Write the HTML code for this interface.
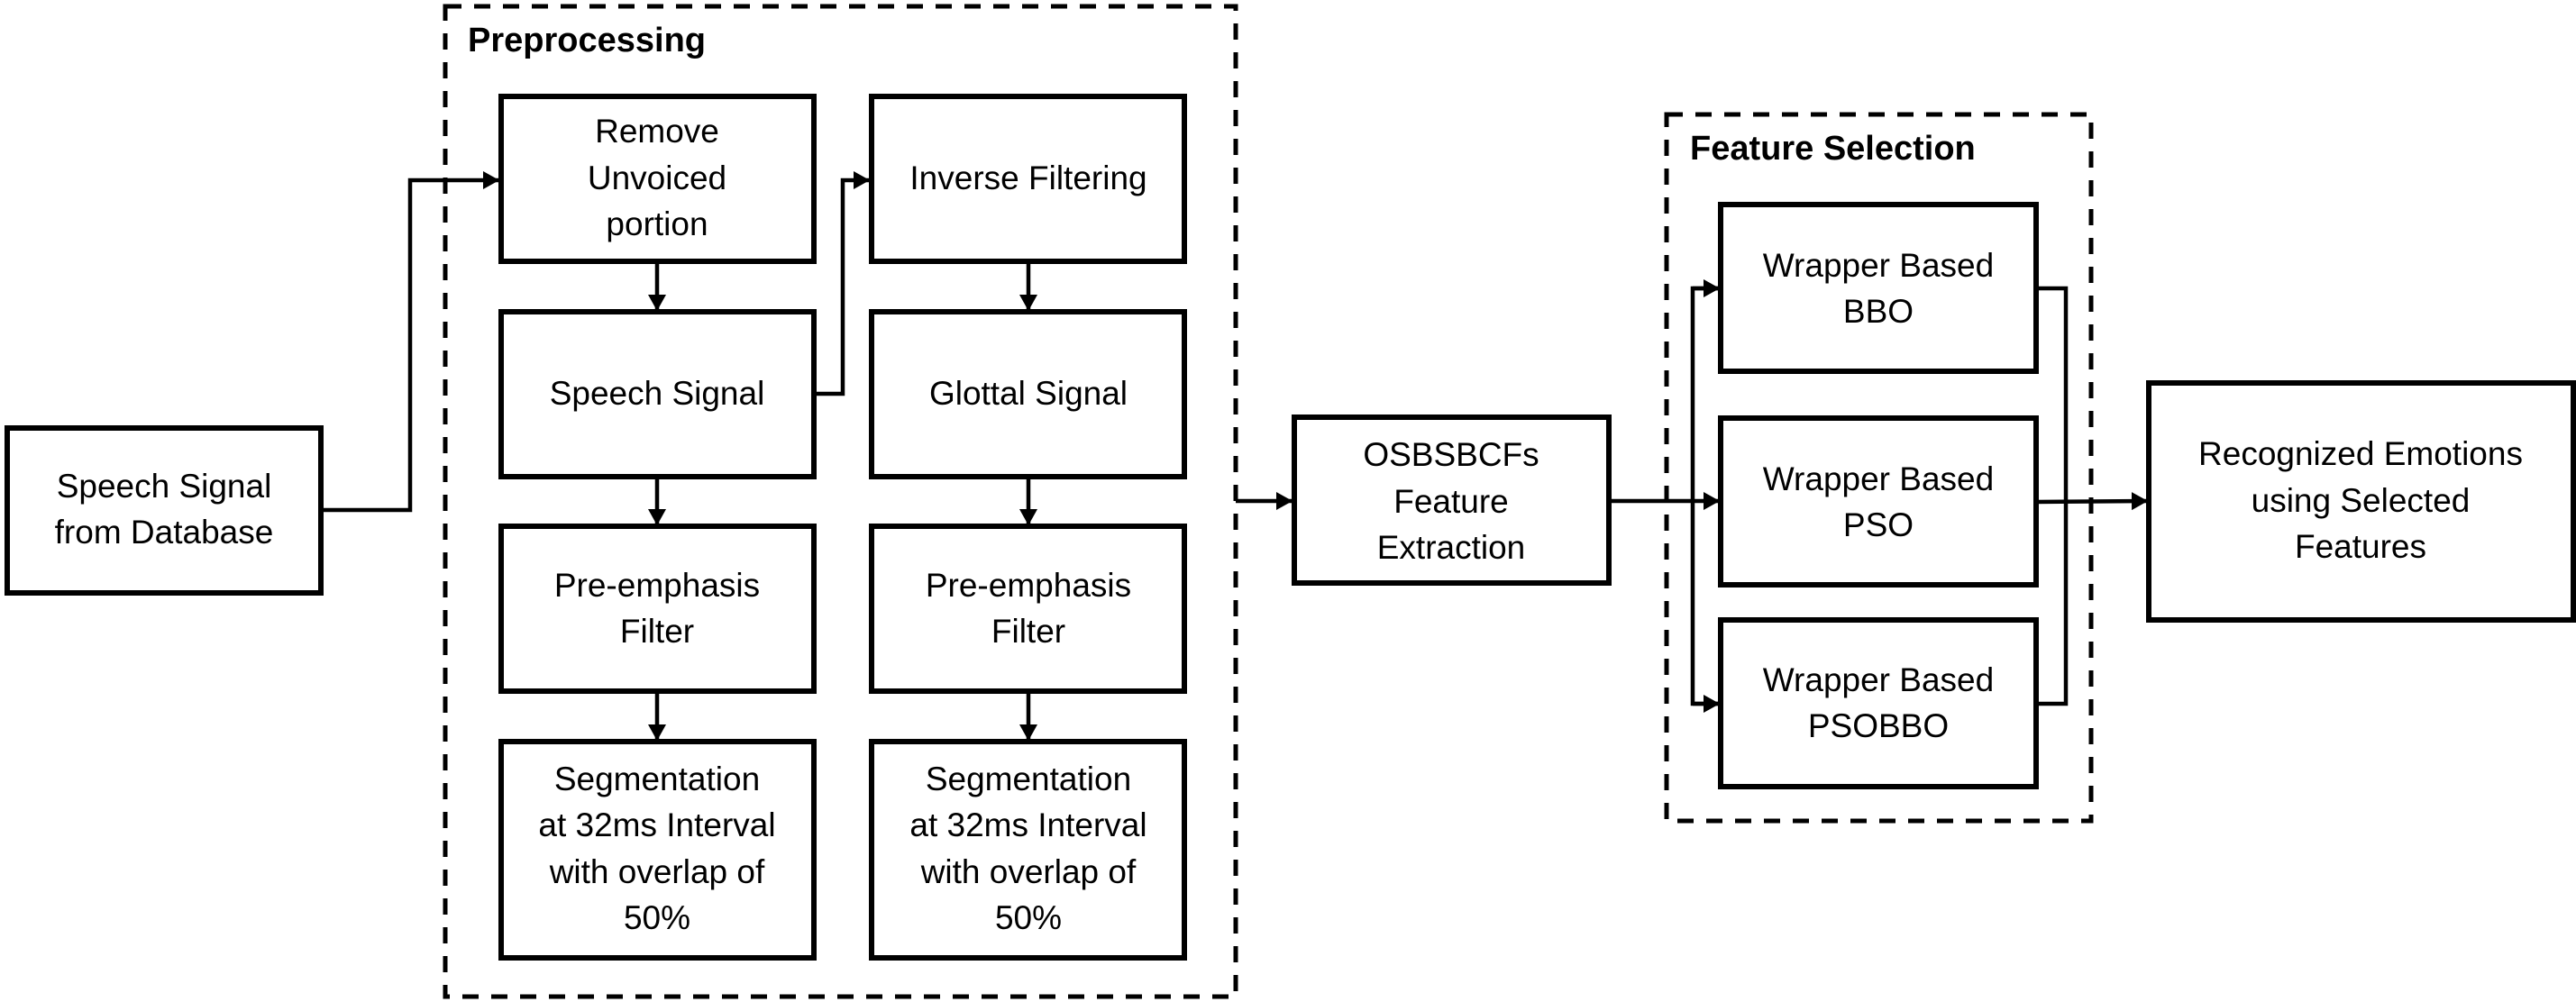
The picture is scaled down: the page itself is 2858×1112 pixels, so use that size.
<!DOCTYPE html>
<html><head><meta charset="utf-8"><style>
html,body{margin:0;padding:0;background:#fff;}
svg{display:block;}
text{font-family:"Liberation Sans",sans-serif;font-size:37px;fill:#000;text-anchor:middle;}
.t{font-weight:bold;font-size:38px;text-anchor:start;}
</style></head><body>
<svg width="2858" height="1112" viewBox="0 0 2858 1112" xmlns="http://www.w3.org/2000/svg">
<defs>
<marker id="a" markerWidth="18" markerHeight="20" refX="17" refY="10" orient="auto" markerUnits="userSpaceOnUse">
<path d="M0,0 L18,10 L0,20 z" fill="#000"/></marker>
</defs>
<g fill="none" stroke="#000" stroke-width="5" stroke-dasharray="18,14">
<rect x="494" y="7" width="877" height="1099"/>
<rect x="1849" y="127" width="471" height="784"/>
</g>
<text class="t" x="519" y="57">Preprocessing</text>
<text class="t" x="1875" y="177">Feature Selection</text>
<g fill="#fff" stroke="#000" stroke-width="6">
<rect x="8" y="475" width="348" height="183"/>
<rect x="556" y="107" width="347" height="183"/>
<rect x="556" y="346" width="347" height="183"/>
<rect x="556" y="584" width="347" height="183"/>
<rect x="556" y="823" width="347" height="240"/>
<rect x="967" y="107" width="347" height="183"/>
<rect x="967" y="346" width="347" height="183"/>
<rect x="967" y="584" width="347" height="183"/>
<rect x="967" y="823" width="347" height="240"/>
<rect x="1436" y="463" width="349" height="184"/>
<rect x="1909" y="227" width="350" height="185"/>
<rect x="1909" y="464" width="350" height="185"/>
<rect x="1909" y="688" width="350" height="185"/>
<rect x="2384" y="425" width="471" height="263"/>
</g>
<g fill="none" stroke="#000" stroke-width="4.5">
<polyline points="356,566 455,566 455,200 553,200" marker-end="url(#a)"/>
<polyline points="903,437 935,437 935,200 964,200" marker-end="url(#a)"/>
<line x1="729" y1="290" x2="729" y2="344" marker-end="url(#a)"/>
<line x1="729" y1="529" x2="729" y2="582" marker-end="url(#a)"/>
<line x1="729" y1="767" x2="729" y2="821" marker-end="url(#a)"/>
<line x1="1141" y1="290" x2="1141" y2="344" marker-end="url(#a)"/>
<line x1="1141" y1="529" x2="1141" y2="582" marker-end="url(#a)"/>
<line x1="1141" y1="767" x2="1141" y2="821" marker-end="url(#a)"/>
<line x1="1371" y1="556" x2="1433" y2="556" marker-end="url(#a)"/>
<line x1="1785" y1="556" x2="1907" y2="556" marker-end="url(#a)"/>
<polyline points="1907,320 1878,320 1878,781 1907,781"/>
<line x1="1878" y1="320" x2="1907" y2="320" marker-end="url(#a)"/>
<line x1="1878" y1="781" x2="1907" y2="781" marker-end="url(#a)"/>
<polyline points="2259,320 2292,320 2292,781 2259,781"/>
<line x1="2259" y1="557" x2="2382" y2="556" marker-end="url(#a)"/>
</g>
<text x="182" y="552">Speech Signal</text><text x="182" y="603">from Database</text>
<text x="729" y="158">Remove</text><text x="729" y="210">Unvoiced</text><text x="729" y="261">portion</text>
<text x="1141" y="210">Inverse Filtering</text>
<text x="729" y="449">Speech Signal</text>
<text x="1141" y="449">Glottal Signal</text>
<text x="729" y="662">Pre-emphasis</text><text x="729" y="713">Filter</text>
<text x="1141" y="662">Pre-emphasis</text><text x="1141" y="713">Filter</text>
<text x="729" y="877">Segmentation</text><text x="729" y="928">at 32ms Interval</text><text x="729" y="980">with overlap of</text><text x="729" y="1031">50%</text>
<text x="1141" y="877">Segmentation</text><text x="1141" y="928">at 32ms Interval</text><text x="1141" y="980">with overlap of</text><text x="1141" y="1031">50%</text>
<text x="1610" y="517">OSBSBCFs</text><text x="1610" y="569">Feature</text><text x="1610" y="620">Extraction</text>
<text x="2084" y="307">Wrapper Based</text><text x="2084" y="358">BBO</text>
<text x="2084" y="544">Wrapper Based</text><text x="2084" y="595">PSO</text>
<text x="2084" y="767">Wrapper Based</text><text x="2084" y="818">PSOBBO</text>
<text x="2619" y="516">Recognized Emotions</text><text x="2619" y="568">using Selected</text><text x="2619" y="619">Features</text>
</svg>
</body></html>
